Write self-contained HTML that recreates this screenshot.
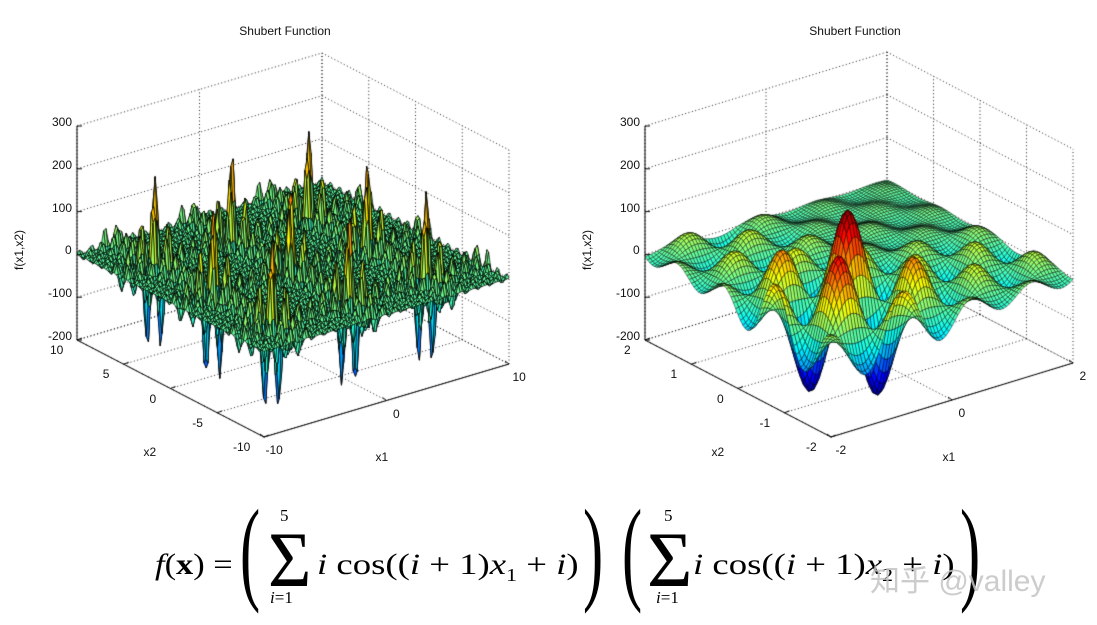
<!DOCTYPE html>
<html><head><meta charset="utf-8">
<style>
html,body{margin:0;padding:0;background:#fff;}
#root{position:relative;width:1097px;height:625px;overflow:hidden;background:#fff;font-family:"Liberation Sans",sans-serif;}
canvas{position:absolute;left:0;top:0;}
.t{position:absolute;font-size:12px;color:#111;white-space:nowrap;}
.title{position:absolute;font-size:12px;transform:translateX(-50%);color:#111;}
.f{position:absolute;font-family:"Liberation Serif",serif;color:#000;white-space:nowrap;line-height:1;transform-origin:left top;}
</style></head><body>
<div id="root">
<canvas id="cv" width="1097" height="625"></canvas>
<div class="title" style="left:285px;top:24px">Shubert Function</div>
<div class="title" style="left:855px;top:24px">Shubert Function</div>
<div id="formula">
<span class="f" id="lhs" style="left:155px;top:550px;font-size:30px"><i>f</i>(<b>x</b>) =</span>
<span class="f" id="p1" style="left:240px;top:493px;font-size:115px">(</span>
<span class="f" style="left:280px;top:507px;font-size:17px">5</span>
<span class="f" id="s1" style="left:268px;top:521px;font-size:78px">&Sigma;</span>
<span class="f" style="left:270px;top:589px;font-size:17px"><i>i</i>=1</span>
<span class="f" id="e1" style="left:317px;top:550px;font-size:30px"><i>i</i> cos((<i>i</i> + 1)<i>x</i><sub style="font-size:18px">1</sub> + <i>i</i>)</span>
<span class="f" id="p2" style="left:583px;top:493px;font-size:115px">)</span>
<span class="f" id="p3" style="left:622px;top:493px;font-size:115px">(</span>
<span class="f" style="left:664px;top:507px;font-size:17px">5</span>
<span class="f" id="s2" style="left:647px;top:521px;font-size:78px">&Sigma;</span>
<span class="f" style="left:656px;top:589px;font-size:17px"><i>i</i>=1</span>
<span class="f" id="e2" style="left:693px;top:550px;font-size:30px"><i>i</i> cos((<i>i</i> + 1)<i>x</i><sub style="font-size:18px">2</sub> + <i>i</i>)</span>
<span class="f" id="p4" style="left:960px;top:493px;font-size:115px">)</span>
</div>
<div class="t" style="left:870px;top:556px;font-size:30px;color:rgba(195,195,195,0.85);font-family:'Liberation Sans','Noto Sans CJK SC',sans-serif">知乎 @valley</div>
</div>
<script>
const zTicks=[-200,-100,0,100,200,300];
const leftX1Ticks=[-10,0,10];
const leftX2Ticks=[-10,-5,0,5,10];
const rightX1Ticks=[-2,0,2];
const rightX2Ticks=[-2,-1,0,1,2];
const zMin=-200, zMax=300;

function fitW(id,w){const e=document.getElementById(id);const cw=e.offsetWidth;e.style.transform='scaleX('+(w/cw)+')';}
fitW('lhs',78);fitW('e1',262);fitW('e2',262);fitW('s1',43);fitW('s2',45);
['p1','p2','p3','p4'].forEach(id=>fitW(id,20));

function shubert(a,b){let s1=0,s2=0;for(let i=1;i<=5;i++){s1+=i*Math.cos((i+1)*a+i);s2+=i*Math.cos((i+1)*b+i);}return s1*s2;}
function clamp(v){return Math.max(0,Math.min(1,v));}
function jet(t){t=clamp(t);return 'rgb('+Math.round(255*clamp(1.5-Math.abs(4*t-3)))+','+Math.round(255*clamp(1.5-Math.abs(4*t-2)))+','+Math.round(255*clamp(1.5-Math.abs(4*t-1)))+')';}

const root=document.getElementById('root');
const ctx=document.getElementById('cv').getContext('2d');
function label(txt,x,y,name,anchor){
  const d=document.createElement('div');d.className='t';d.textContent=txt;
  
  
  root.appendChild(d);
  const w=d.offsetWidth,h=d.offsetHeight;
  let lx=x-w/2; if(anchor==='r')lx=x-w; if(anchor==='l')lx=x;
  d.style.left=lx+'px';d.style.top=(y-h/2)+'px';return d;
}
function plot(cfg){
  const {A,B,C,lo,hi,n,lw,x1T,x2T,pre,clim}=cfg;
  const zs=(A[1]-126)/(zMax-zMin);
  function P(x1,x2,z){const u=(x1-lo)/(hi-lo),v=(x2-lo)/(hi-lo);
    return [B[0]+u*(C[0]-B[0])+v*(A[0]-B[0]), B[1]+u*(C[1]-B[1])+v*(A[1]-B[1])-(z-zMin)*zs];}
  function line(p,q,dash){ctx.beginPath();ctx.setLineDash(dash?[1,2.5]:[]);ctx.moveTo(p[0],p[1]);ctx.lineTo(q[0],q[1]);ctx.stroke();}
  ctx.strokeStyle='#000';ctx.lineWidth=0.9;
  zTicks.forEach(z=>{line(P(lo,hi,z),P(hi,hi,z),1);line(P(hi,hi,z),P(hi,lo,z),1);});
  x1T.forEach(t=>{line(P(t,hi,zMin),P(t,hi,zMax),1);line(P(t,lo,zMin),P(t,hi,zMin),1);});
  x2T.forEach(t=>{line(P(hi,t,zMin),P(hi,t,zMax),1);line(P(lo,t,zMin),P(hi,t,zMin),1);});
  const N=n+1,X=[],Z=[];let mn=1e9,mx=-1e9;
  for(let i=0;i<N;i++){X.push(lo+i*(hi-lo)/n);}
  for(let i=0;i<N;i++){Z.push([]);for(let j=0;j<N;j++){const z=shubert(X[i],X[j]);Z[i].push(z);mn=Math.min(mn,z);mx=Math.max(mx,z);}}
  if(clim){mn=clim[0];mx=clim[1];}
  const quads=[];for(let i=0;i<n;i++)for(let j=0;j<n;j++)quads.push([i,j]);
  quads.sort((a,b)=>(b[0]+b[1])-(a[0]+a[1]));
  ctx.setLineDash([]);ctx.lineWidth=lw;ctx.strokeStyle='#000';
  quads.forEach(([i,j])=>{
    const pts=[P(X[i],X[j],Z[i][j]),P(X[i+1],X[j],Z[i+1][j]),P(X[i+1],X[j+1],Z[i+1][j+1]),P(X[i],X[j+1],Z[i][j+1])];
    const zc=(Z[i][j]+Z[i+1][j]+Z[i+1][j+1]+Z[i][j+1])/4;
    ctx.beginPath();ctx.moveTo(pts[0][0],pts[0][1]);for(let k=1;k<4;k++)ctx.lineTo(pts[k][0],pts[k][1]);ctx.closePath();
    ctx.fillStyle=jet((zc-mn)/(mx-mn));ctx.fill();ctx.stroke();
  });
  ctx.lineWidth=1;ctx.strokeStyle='#000';
  line(P(lo,hi,zMin),P(lo,hi,zMax));
  line(P(lo,hi,zMin),P(lo,lo,zMin));
  line(P(lo,lo,zMin),P(hi,lo,zMin));
  zTicks.forEach(z=>{const p=P(lo,hi,z);line(p,[p[0]+5,p[1]]);label(String(z),p[0]-5,p[1]-4,pre+'z-tick','r');});
  x2T.forEach(t=>{const p=P(lo,t,zMin);line(p,[p[0]+5,p[1]-2]);label(String(t),p[0]-14,p[1]+10,pre+'x2-tick','r');});
  x1T.forEach(t=>{const p=P(t,lo,zMin);line(p,[p[0]-4,p[1]-3]);label(String(t),p[0]+10,p[1]+13,pre+'x1-tick','c');});
  const zl=label('f(x1,x2)',A[0]-58,250,pre+'z-axis-title','c');zl.style.transform='rotate(-90deg)';
  label('x2',A[0]+73,452,pre+'x2-axis-title','c');
  label('x1',B[0]+118,457,pre+'x1-axis-title','c');
}
plot({A:[77,340],B:[264,437],C:[509,364],lo:-10,hi:10,n:110,lw:0.7,x1T:leftX1Ticks,x2T:leftX2Ticks,pre:'left-',clim:[-280,320]});
plot({A:[645,340],B:[831,437],C:[1073,363],lo:-2,hi:2,n:80,lw:0.45,x1T:rightX1Ticks,x2T:rightX2Ticks,pre:'right-'});
</script>
</body></html>
